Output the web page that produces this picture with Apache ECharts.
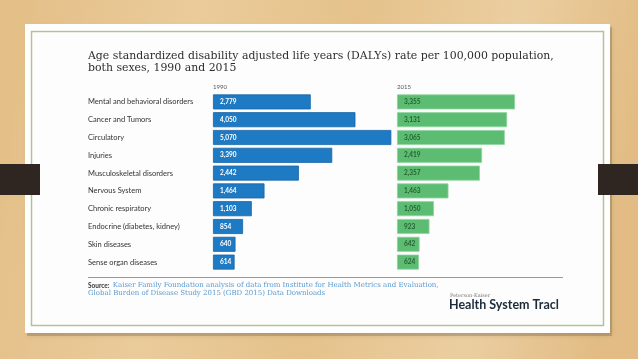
<!DOCTYPE html>
<html><head><meta charset="utf-8">
<script src="https://cdn.jsdelivr.net/npm/echarts@6/dist/echarts.min.js"></script>
<style>html,body{margin:0;padding:0;background:#e8c896;}#c{width:638px;height:359px;}</style>
</head><body><div id="c"></div>
<script>
var categories = ['Mental and behavioral disorders','Cancer and Tumors','Circulatory','Injuries','Musculoskeletal disorders','Nervous System','Chronic respiratory','Endocrine (diabetes, kidney)','Skin diseases','Sense organ diseases'];
var values1990 = [2779, 4050, 5070, 3390, 2442, 1464, 1103, 854, 640, 614];
var values2015 = [3355, 3131, 3065, 2419, 2357, 1463, 1050, 923, 642, 624];
var yearLabels = ['1990', '2015'];
var titleText = 'Age standardized disability adjusted life years (DALYs) rate per 100,000 population,\nboth sexes, 1990 and 2015';

var chart = echarts.init(document.getElementById('c'));
function fmt(p){ return p.value.toLocaleString('en-US'); }
var gridTop = 93, gridH = 178, scaleMax = 6000, gridW = 211;
var SF = 'Lato, "Noto Sans", sans-serif';
chart.setOption({
  animation: false,
  title: { text: titleText, left: 83, top: 44.5, textStyle: { fontFamily: '"DejaVu Serif", serif', fontSize: 10.9, fontWeight: 'normal', color: '#2e2e2e', lineHeight: 12.5, textShadowColor: 'rgba(40,40,40,0.6)', textShadowBlur: 0, textShadowOffsetX: 0.3 } },
  graphic: [
    { type: 'rect', z: -20, shape: { x: 0, y: 0, width: 638, height: 359 }, style: { fill: new echarts.graphic.LinearGradient(0, 0, 1, 0.3, [{offset:0,color:'#e3be86'},{offset:0.3,color:'#eacb9a'},{offset:0.55,color:'#e5c28b'},{offset:0.8,color:'#ebcea0'},{offset:1,color:'#e2bc84'}]) } },
    { type: 'rect', z: -19, shape: { x: 27, y: 27, width: 585, height: 309 }, style: { fill: 'rgba(90,70,50,0.25)', shadowBlur: 5, shadowColor: 'rgba(60,40,20,0.45)' } },
    { type: 'rect', z: -18, shape: { x: 25, y: 24, width: 585, height: 309 }, style: { fill: '#ffffff' } },
    { type: 'rect', z: -17, shape: { x: 31.5, y: 31.5, width: 572, height: 294 }, style: { fill: '#fdfdfd', stroke: '#b3c196', lineWidth: 1.5 } },
    { type: 'rect', z: -16, shape: { x: 0, y: 164, width: 40, height: 31 }, style: { fill: '#2f2621' } },
    { type: 'rect', z: -16, shape: { x: 598, y: 164, width: 40, height: 31 }, style: { fill: '#2f2621' } },
    { type: 'text', left: 213, top: 84, style: { text: yearLabels[0], font: '6px ' + SF, fill: '#555' } },
    { type: 'text', left: 397, top: 84, style: { text: yearLabels[1], font: '6px ' + SF, fill: '#555' } },
    { type: 'line', shape: { x1: 88, y1: 277.5, x2: 563, y2: 277.5 }, style: { stroke: '#999', lineWidth: 1 } },
    { type: 'text', left: 88, top: 279.5, style: { rich: { b: { font: 'bold 6.5px ' + SF, fill: '#333', lineHeight: 7 }, l: { font: '7px "DejaVu Serif", serif', fill: '#5a9ad0', textDecoration: 'underline', lineHeight: 7 } }, text: '{b|Source:} {l|Kaiser Family Foundation analysis of data from Institute for Health Metrics and Evaluation,}' } },
    { type: 'text', left: 88, top: 290, style: { text: 'Global Burden of Disease Study 2015 (GBD 2015) Data Downloads', font: '7px "DejaVu Serif", serif', fill: '#5a9ad0' } },
    { type: 'text', left: 450, top: 293, style: { text: 'Peterson-Kaiser', font: '5px "DejaVu Serif", serif', fill: '#777' } },
    { type: 'text', left: 449, top: 298, style: { text: 'Health System Tracl', font: 'bold 12.5px ' + SF, fill: '#1c2b3a' } }
  ],
  grid: [
    { left: 213, top: gridTop, width: gridW, height: gridH },
    { left: 397, top: gridTop, width: gridW, height: gridH }
  ],
  xAxis: [
    { gridIndex: 0, type: 'value', min: 0, max: scaleMax, show: false },
    { gridIndex: 1, type: 'value', min: 0, max: scaleMax, show: false }
  ],
  yAxis: [
    { gridIndex: 0, type: 'category', data: categories, inverse: true, axisLine: { show: false }, axisTick: { show: false },
      axisLabel: { margin: 125, align: 'left', fontFamily: SF, fontSize: 7.5, color: '#333' } },
    { gridIndex: 1, type: 'category', data: categories, inverse: true, show: false }
  ],
  series: [
    { type: 'bar', xAxisIndex: 0, yAxisIndex: 0, data: values1990, barWidth: 15,
      itemStyle: { color: '#1f7ac4', borderColor: '#1565a8', borderWidth: 0.8 },
      label: { show: true, position: 'insideLeft', offset: [2, 0], formatter: fmt, fontFamily: SF, fontSize: 6.5, fontWeight: 'bold', color: '#ffffff' } },
    { type: 'bar', xAxisIndex: 1, yAxisIndex: 1, data: values2015, barWidth: 15,
      itemStyle: { color: '#5cbd72', borderColor: '#8fd3a0', borderWidth: 0.8 },
      label: { show: true, position: 'insideLeft', offset: [2, 0], formatter: fmt, fontFamily: SF, fontSize: 6.5, fontWeight: 'bold', color: '#245f31' } }
  ]
});
</script></body></html>
